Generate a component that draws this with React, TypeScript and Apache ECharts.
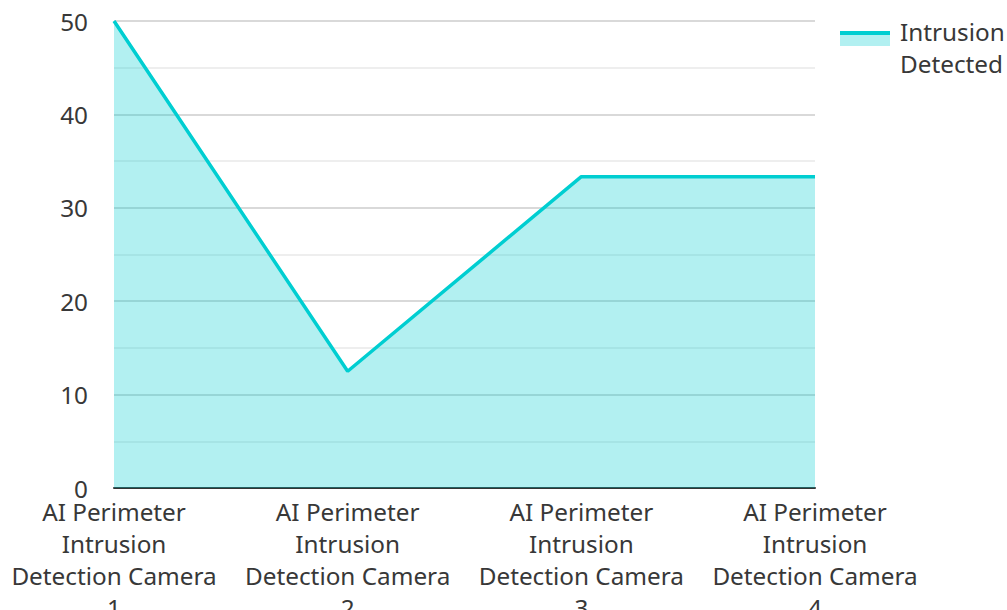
import React, { useEffect, useRef } from "react";
import * as echarts from "echarts";

const categories = [
  "AI Perimeter Intrusion Detection Camera 1",
  "AI Perimeter Intrusion Detection Camera 2",
  "AI Perimeter Intrusion Detection Camera 3",
  "AI Perimeter Intrusion Detection Camera 4",
];
const seriesName = "Intrusion Detected";
const values = [50, 12.5, 33.33, 33.33];

const FONT = "'Noto Sans', 'Open Sans', sans-serif";
const LINE = "#00CED1";
const TEXT = "#383838";

function wrapLabel(s: string): string {
  const m = s.match(/^(AI Perimeter) (Intrusion) (Detection Camera) (\d+)$/);
  return m ? [m[1], m[2], m[3], m[4]].join("\n") : s;
}

export default function App() {
  const ref = useRef<HTMLDivElement>(null);
  useEffect(() => {
    document.body.style.margin = "0";
    if (!ref.current) return;
    const chart = echarts.init(ref.current, undefined, { renderer: "svg" });
    chart.setOption({
      animation: false,
      grid: {
        left: 114,
        right: 192,
        top: 21,
        bottom: 122,
        containLabel: false,
        outerBoundsMode: "none",
      },
      xAxis: {
        type: "category",
        data: categories,
        boundaryGap: false,
        axisLine: { show: true, lineStyle: { color: "#333", width: 2 } },
        axisTick: { show: false },
        axisLabel: {
          formatter: (v: string) => wrapLabel(v),
          fontFamily: FONT,
          fontSize: 24.3,
          lineHeight: 32,
          color: TEXT,
          margin: 7,
          interval: 0,
        },
        splitLine: { show: false },
      },
      yAxis: {
        type: "value",
        min: 0,
        max: 50,
        interval: 10,
        axisLine: { show: false },
        axisTick: { show: false },
        axisLabel: { fontFamily: FONT, fontSize: 24.3, color: TEXT, margin: 26 },
        splitLine: { show: true, lineStyle: { color: "rgba(0,0,0,0.2)", width: 1.5 } },
        minorTick: { show: false, splitNumber: 2 },
        minorSplitLine: { show: true, lineStyle: { color: "rgba(0,0,0,0.09)", width: 1.5 } },
      },
      series: [
        {
          name: seriesName,
          type: "line",
          data: values,
          symbol: "none",
          lineStyle: { color: LINE, width: 3.5 },
          itemStyle: { color: LINE },
          areaStyle: { color: LINE, opacity: 0.3 },
          z: 1,
        },
      ],
      graphic: [
        { type: "rect", shape: { x: 840, y: 35, width: 50, height: 11 }, style: { fill: LINE, opacity: 0.3 } },
        { type: "rect", shape: { x: 840, y: 31, width: 50, height: 4 }, style: { fill: LINE } },
        {
          type: "text",
          x: 900,
          y: 15,
          style: {
            text: "Intrusion\nDetected",
            fontFamily: FONT,
            fontSize: 24.3,
            lineHeight: 32,
            fill: TEXT,
          },
        },
      ],
    });
    return () => chart.dispose();
  }, []);
  return <div ref={ref} style={{ width: 1007, height: 610 }} />;
}
